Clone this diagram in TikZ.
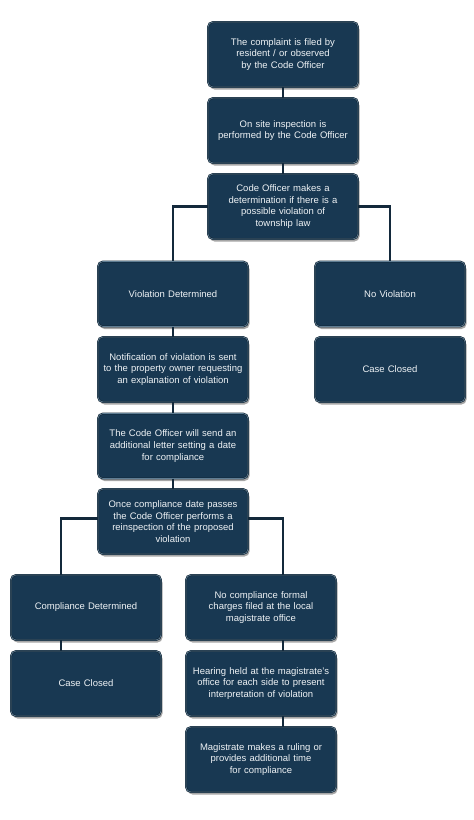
\documentclass[tikz,border=0pt]{standalone}
\usepackage{fontspec}
\setmainfont{Liberation Sans}
\usetikzlibrary{shadows}
\definecolor{boxfill}{HTML}{183852}
\definecolor{boxedge}{HTML}{0E2232}
\definecolor{boxline}{HTML}{5F7D93}
\definecolor{linkcol}{HTML}{13293B}
\definecolor{txtcol}{HTML}{EEF2F5}
\tikzset{
  flowbox/.style={rectangle, rounded corners=5pt, fill=boxfill,
    draw=boxedge, line width=0.6pt, double=boxline, double distance=0.7pt,
    minimum width=150pt, minimum height=65pt, text width=146pt, align=center,
    text=txtcol, font=\fontsize{9.5}{11.7}\selectfont, inner sep=0pt,
    drop shadow={shadow xshift=1.5pt, shadow yshift=-2.5pt, opacity=0.35, fill=black}},
  link/.style={draw=linkcol, line width=2.8pt}
}
\begin{document}
\begin{tikzpicture}[x=1pt,y=-1pt]
\useasboundingbox (0,0) rectangle (474,820);
\fill[white] (0,0) rectangle (474,820);
\coordinate (lx) at (61,0);
\coordinate (rx) at (283,0);
\node[flowbox] (b1) at (283,54.5) {The complaint is filed by\\resident / or observed\\by the Code Officer};
\node[flowbox] (b2) at (283,130.5) {On site inspection is\\performed by the Code Officer};
\node[flowbox] (b3) at (283,206.5) {Code Officer makes a\\determination if there is a\\possible violation of\\township law};
\node[flowbox] (vd) at (173,294) {Violation Determined};
\node[flowbox] (nv) at (390,294) {No Violation};
\node[flowbox] (notif) at (173,369.5) {Notification of violation is sent\\to the property owner requesting\\an explanation of violation};
\node[flowbox] (cc1) at (390,369.5) {Case Closed};
\node[flowbox] (send) at (173,446) {The Code Officer will send an\\additional letter setting a date\\for compliance};
\node[flowbox] (once) at (173,521.5) {Once compliance date passes\\the Code Officer performs a\\reinspection of the proposed\\violation};
\node[flowbox] (compd) at (86,607.5) {Compliance Determined};
\node[flowbox] (nocomp) at (261,607.5) {No compliance formal\\charges filed at the local\\magistrate office};
\node[flowbox] (cc2) at (86,683.5) {Case Closed};
\node[flowbox] (hear) at (261,683.5) {Hearing held at the magistrate's\\office for each side to present\\interpretation of violation};
\node[flowbox] (mag) at (261,759.5) {Magistrate makes a ruling or\\provides additional time\\for compliance};
% connectors
\draw[link] (b1.south) -- (b2.north);
\draw[link] (b2.south) -- (b3.north);
\draw[link] (b3.west) -| (vd.north);
\draw[link] (b3.east) -| (nv.north);
\draw[link] (vd.south) -- (notif.north);
\draw[link] (notif.south) -- (send.north);
\draw[link] (send.south) -- (once.north);
\draw[link] ([yshift=3pt]once.west) -| (compd.north -| lx);
\draw[link] ([yshift=3pt]once.east) -| (nocomp.north -| rx);
\draw[link] (compd.south -| lx) -- (cc2.north -| lx);
\draw[link] (nocomp.south -| rx) -- (hear.north -| rx);
\draw[link] (hear.south -| rx) -- (mag.north -| rx);
\end{tikzpicture}
\end{document}
